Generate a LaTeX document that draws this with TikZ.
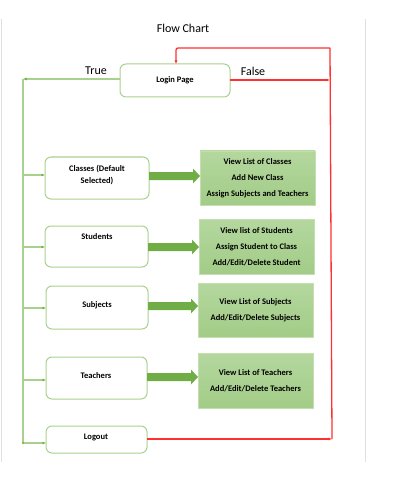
\documentclass[tikz,border=0pt]{standalone}
\usepackage{fontspec}
\setmainfont{Carlito}
\usetikzlibrary{arrows.meta}
\definecolor{lgreen}{HTML}{A9D18E}
\definecolor{dgreen}{HTML}{70AD47}
\definecolor{rline}{HTML}{FF3030}
\definecolor{ftop}{HTML}{B4D79E}
\definecolor{fbot}{HTML}{A2CC87}
\tikzset{
  menubox/.style={draw=lgreen,line width=1pt,rounded corners=6pt,fill=white},
  actbox/.style={draw=lgreen!70!white,line width=0.6pt,top color=ftop,bottom color=fbot,align=center,font=\bfseries\fontsize{8.5}{16}\selectfont},
  lab/.style={font=\bfseries\fontsize{8.5}{12}\selectfont,align=center},
  gline/.style={draw=lgreen,line width=1.3pt},
  garr/.style={draw=lgreen,line width=1.3pt,-{Latex[length=3.5pt,width=3pt,color=dgreen]}},
  rl/.style={draw=rline,line width=1.3pt},
  rarr/.style={draw=rline,line width=1.3pt,-{Latex[length=3.5pt,width=3pt,color=rline]}},
  blockarrow/.style={fill=dgreen,draw=none}
}
\begin{document}
\begin{tikzpicture}[x=1pt,y=-1pt]
\useasboundingbox (0,0) rectangle (403,481);
% page borders
\draw[draw=black!12,line width=1.2pt] (1.5,19) -- (1.5,462);
\draw[draw=black!12,line width=1.2pt] (365.5,19) -- (365.5,462);
% title
\node[font=\fontsize{12}{14}\selectfont] (title) at (183,28) {Flow Chart};
% login
\draw[menubox] (120,64) rectangle (230,97);
\node[lab] (login) at (175,80.5) {Login Page};
\coordinate (loginW) at (120,79);
\coordinate (loginE) at (230,80);
\coordinate (loginN) at (176,64);
\node[font=\fontsize{12}{14}\selectfont] (true) at (96,71) {True};
\node[font=\fontsize{12}{14}\selectfont] (false) at (253,71) {False};
% menu boxes
\draw[menubox] (45,157) rectangle (149,199);
\node[lab] (classes) at (97,175) {Classes (Default\\Selected)};
\draw[menubox] (45,226) rectangle (148,267);
\node[lab] (students) at (97,237) {Students};
\draw[menubox] (46,286) rectangle (148,329);
\node[lab] (subjects) at (97,305) {Subjects};
\draw[menubox] (46,357) rectangle (147,399);
\node[lab] (teachers) at (96,376) {Teachers};
\draw[menubox] (46,426) rectangle (147,453);
\node[lab] (logout) at (96,437) {Logout};
% action boxes
\node[actbox,minimum width=115pt,minimum height=54pt] (aclasses) at (257.5,178) {View List of Classes\\Add New Class\\Assign Subjects and Teachers};
\node[actbox,minimum width=115pt,minimum height=55pt] (astudents) at (256.5,246.5) {View list of Students\\Assign Student to Class\\Add/Edit/Delete Student};
\node[actbox,minimum width=115pt,minimum height=54pt] (asubjects) at (255.5,310) {View List of Subjects\\Add/Edit/Delete Subjects};
\node[actbox,minimum width=115pt,minimum height=55pt] (ateachers) at (255.5,380.5) {View List of Teachers\\Add/Edit/Delete Teachers};
% block arrows
\foreach \xa/\xb/\yy in {149/200/176, 148/199/247, 148/198/306, 147/198/377}{
  \fill[blockarrow] (\xa,\yy-4) -- (\xb-7,\yy-4) -- (\xb-7,\yy-7.5) -- (\xb,\yy) -- (\xb-7,\yy+7.5) -- (\xb-7,\yy+4) -- (\xa,\yy+4) -- cycle;
}
% green connectors
\coordinate (gtop) at (23,79);
\coordinate (gbot) at (23,443);
\draw[garr] (loginW) -- (gtop);
\draw[gline] (gtop) -- (gbot);
\coordinate (b1) at (23,175);
\coordinate (b2) at (23,247);
\coordinate (b3) at (23,308);
\coordinate (b4) at (23,380);
\draw[garr] (b1) -- (45,175);
\draw[garr] (b2) -- (45,247);
\draw[garr] (b3) -- (46,308);
\draw[garr] (b4) -- (46,380);
\draw[garr] (gbot) -- (46,443);
\fill[dgreen] (gbot) circle (1.2pt);
% red connectors
\coordinate (rE) at (330,80);
\coordinate (rTop) at (330,48);
\coordinate (rTL) at (176,48);
\coordinate (rBot) at (332,439);
\coordinate (logoutE) at (147,439);
\draw[rarr] (loginE) -- (rE);
\draw[rarr] (logoutE) -- (rBot);
\draw[rl] (rBot) -- (rTop);
\draw[rarr,rounded corners=2pt] (rTop) -- (rTL) -- (loginN);
\end{tikzpicture}
\end{document}
